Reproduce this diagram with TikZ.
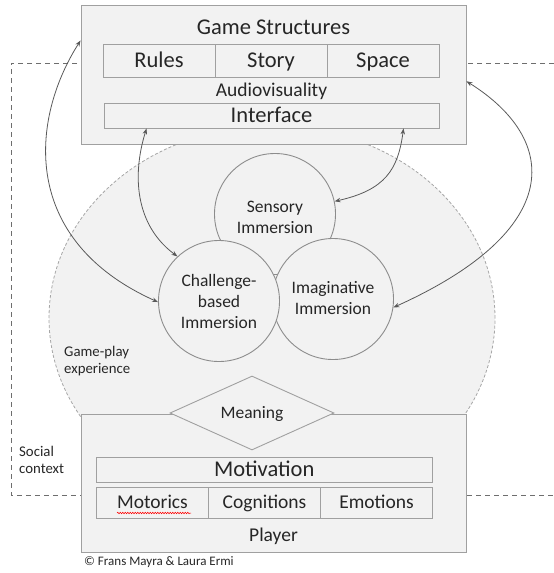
\documentclass[tikz,border=0pt]{standalone}
\usepackage{fontspec}
\setmainfont{Carlito}
\usetikzlibrary{shapes.geometric,arrows.meta,decorations.pathmorphing,calc}
\definecolor{boxfill}{HTML}{F2F2F2}
\definecolor{boxline}{HTML}{A0A0A0}
\definecolor{circline}{HTML}{8C8C8C}
\definecolor{arrowcol}{HTML}{595959}
\definecolor{txt}{HTML}{262626}
\definecolor{socialcol}{HTML}{6E6E6E}
\definecolor{ellline}{HTML}{A6A6A6}
\begin{document}
\begin{tikzpicture}[x=1pt,y=-1pt,
  box/.style={draw=boxline, fill=boxfill, line width=0.9pt, inner sep=0pt, rectangle, text=txt},
  bigtxt/.style={font=\fontsize{22.5}{26}\selectfont, text height=14.5pt, text depth=0pt},
  midtxt/.style={font=\fontsize{19.5}{23}\selectfont, text height=12.6pt, text depth=0pt},
  circtxt/.style={font=\fontsize{17.5}{21}\selectfont, align=center, text=txt, inner sep=0pt},
  smalltxt/.style={font=\fontsize{14.8}{17.5}\selectfont, align=left, text=txt, inner sep=0pt},
  immcirc/.style={circle, draw=circline, fill=boxfill, line width=0.9pt, minimum size=121pt, inner sep=0pt},
  conn/.style={draw=arrowcol, line width=0.8pt, {Stealth[length=6pt,width=4.5pt]}-{Stealth[length=6pt,width=4.5pt]}}
]
\useasboundingbox (0,0) rectangle (554,573);
% social context frame
\draw[socialcol, line width=0.8pt, dash pattern=on 5pt off 4pt] (554,63) -- (11,63) -- (11,495) -- (554,495);
% game-play experience
\node[ellipse, draw=ellline, fill=boxfill, line width=0.8pt, dash pattern=on 3pt off 2pt, minimum width=446pt, minimum height=384pt, inner sep=0pt] (gpe) at (272,318) {};
% immersion circles
\node[immcirc] (sen) at (275,214) {};
\node[immcirc] (ima) at (333,299) {};
\node[immcirc] (cha) at (219,301) {};
\node[circtxt] (sent) at (275,217) {Sensory\\Immersion};
\node[circtxt] (imat) at (333,298) {Imaginative\\Immersion};
\node[circtxt] (chat) at (219,301) {Challenge-\\based\\Immersion};
\node[smalltxt, anchor=west] (gpet) at (64,361) {Game-play\\experience};
% game structures
\node[box, minimum width=385pt, minimum height=139pt] (gs) at (273.5,74.5) {};
\node[bigtxt, text=txt, inner sep=0pt] (gst) at (273.5,27) {Game Structures};
\node[box, bigtxt, minimum width=112pt, minimum height=33pt] (rules) at (159,60.5) {Rules};
\node[box, bigtxt, minimum width=112pt, minimum height=33pt] (story) at (271,60.5) {Story};
\node[box, bigtxt, minimum width=112pt, minimum height=33pt] (space) at (383,60.5) {Space};
\node[midtxt, text=txt, inner sep=0pt] (audio) at (271.5,90) {Audiovisuality};
\node[box, bigtxt, minimum width=335pt, minimum height=25pt] (intf) at (271.5,115.5) {Interface};
% player
\node[box, minimum width=385pt, minimum height=138pt] (pl) at (273.5,483) {};
\node[diamond, draw=boxline, fill=boxfill, line width=0.9pt, minimum width=164pt, minimum height=73pt, inner sep=0pt, text=txt, font=\fontsize{17.5}{21}\selectfont, text height=11.3pt, text depth=0pt] (mean) at (252,413) {Meaning};
\node[box, bigtxt, minimum width=335.5pt, minimum height=25pt] (motiv) at (264.25,469.5) {Motivation};
\node[box, midtxt, minimum width=112pt, minimum height=31pt] (moto) at (152.5,502.5) {Motorics};
\node[box, midtxt, minimum width=112pt, minimum height=31pt] (cogn) at (264.5,502.5) {Cognitions};
\node[box, midtxt, minimum width=112pt, minimum height=31pt] (emot) at (376.5,502.5) {Emotions};
\draw[red, line width=0.5pt, decorate, decoration={snake, amplitude=0.8pt, segment length=2.5pt}] (117,513) -- (191,513);
\node[midtxt, text=txt, inner sep=0pt] (plt) at (273.5,535) {Player};
\node[smalltxt, anchor=west] (soc) at (19,460) {Social\\context};
\node[font=\fontsize{13}{15}\selectfont, text=txt, anchor=west, inner sep=0pt] (copy) at (84,562) {© Frans Mayra \& Laura Ermi};
% connectors
\draw[conn] (gs.170.4) .. controls (30,120) and (20,240) .. (cha.181);
\draw[conn] ($(intf.south west)!0.128!(intf.south east)$) .. controls (132,175) and (135,225) .. (cha.133);
\draw[conn] ($(intf.south west)!0.893!(intf.south east)$) .. controls (398,170) and (385,190) .. (sen.12);
\draw[conn] (gs.-2.8) .. controls (560,140) and (565,230) .. (ima.-8);
\end{tikzpicture}
\end{document}
